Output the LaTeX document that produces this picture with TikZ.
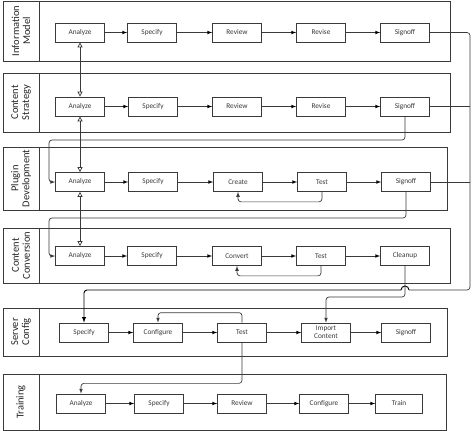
\documentclass[tikz,border=0pt]{standalone}
\usepackage{fontspec}
\setmainfont{Carlito}
\usetikzlibrary{arrows.meta}
\definecolor{crta}{HTML}{3A3A3A}

\begin{document}
\begin{tikzpicture}[x=1pt, y=-1pt, line width=0.7pt,
    korak/.style={draw=crta, fill=white, minimum width=49pt, minimum height=19pt,
      inner sep=1pt, align=center, text=crta, font=\fontsize{7.3}{7.8}\selectfont},
    steza/.style={draw=crta, line width=0.9pt},
    naslov/.style={rotate=90, align=center, text=black!85, font=\fontsize{10.5}{11}\selectfont},
    tok/.style={-latex, draw=crta},
    vez/.style={{Triangle[open,length=5pt,width=5pt]}-{Triangle[open,length=5pt,width=5pt]}, draw=crta}]
  \useasboundingbox (0,0) rectangle (474,431);
  % steze
  \draw [steza] (3,1) rectangle (450,61) (39,1) -- (39,61);
  \draw [steza] (3,73) rectangle (450,132) (39,73) -- (39,132);
  \draw [steza, line width=1pt] (3,147) rectangle (447,210) (39,147) -- (39,210);
  \draw [steza] (3,228) rectangle (450,283) (39,228) -- (39,283);
  \draw [steza] (3,308) rectangle (447,356) (39,308) -- (39,356);
  \draw [steza] (3,374) rectangle (446,430) (39,374) -- (39,430);
  % naslovi
  \node [naslov] (tim) at (21,31) {Information\\Model};
  \node [naslov] (tcs) at (21,102.5) {Content\\Strategy};
  \node [naslov] (tpd) at (21,178.5) {Plugin\\Development};
  \node [naslov] (tcc) at (21,255.5) {Content\\Conversion};
  \node [naslov] (tsc) at (21,332) {Server\\Config};
  \node [naslov] (ttr) at (21,402) {Training};
  % koraki
  \node [korak] (im1) at (80,32.5) {Analyze};
  \node [korak] (im2) at (152,32.5) {Specify};
  \node [korak] (im3) at (237,32.5) {Review};
  \node [korak] (im4) at (321,32.5) {Revise};
  \node [korak] (im5) at (405,32.5) {Signoff};
  \node [korak] (cs1) at (80,106.5) {Analyze};
  \node [korak] (cs2) at (153,106.5) {Specify};
  \node [korak] (cs3) at (237,106.5) {Review};
  \node [korak] (cs4) at (321,106.5) {Revise};
  \node [korak] (cs5) at (405,106.5) {Signoff};
  \node [korak] (pd1) at (80,182) {Analyze};
  \node [korak] (pd2) at (153,182) {Specify};
  \node [korak] (pd3) at (238,182) {Create};
  \node [korak] (pd4) at (322,182) {Test};
  \node [korak] (pd5) at (406,182) {Signoff};
  \node [korak] (cc1) at (80,256) {Analyze};
  \node [korak] (cc2) at (152,256) {Specify};
  \node [korak] (cc3) at (237,256) {Convert};
  \node [korak] (cc4) at (321,256) {Test};
  \node [korak] (cc5) at (405,256) {Cleanup};
  \node [korak] (sc1) at (84,332.5) {Specify};
  \node [korak] (sc2) at (158,332.5) {Configure};
  \node [korak] (sc3) at (242,332.5) {Test};
  \node [korak] (sc4) at (326,332.5) {Import\\Content};
  \node [korak] (sc5) at (406,332.5) {Signoff};
  \node [korak] (tr1) at (81,403.5) {Analyze};
  \node [korak] (tr2) at (159,403.5) {Specify};
  \node [korak] (tr3) at (242,403.5) {Review};
  \node [korak] (tr4) at (324,403.5) {Configure};
  \node [korak, minimum width=47pt] (tr5) at (399,403.5) {Train};
  % tok v stezah
  \draw [tok] (im1) edge (im2) (im2) edge (im3) (im3) edge (im4) (im4) edge (im5);
  \draw [tok] (cs1) edge (cs2) (cs2) edge (cs3) (cs3) edge (cs4) (cs4) edge (cs5);
  \draw [tok] (pd1) edge (pd2) (pd2) edge (pd3) (pd3) edge (pd4) (pd4) edge (pd5);
  \draw [tok] (cc1) edge (cc2) (cc2) edge (cc3) (cc3) edge (cc4) (cc4) edge (cc5);
  \draw [tok] (sc1) edge (sc2) (sc2) edge (sc3) (sc3) edge (sc4) (sc4) edge (sc5);
  \draw [tok] (tr1) edge (tr2) (tr2) edge (tr3) (tr3) edge (tr4) (tr4) edge (tr5);
  % vezi med analizami
  \draw [vez] (im1) -- (cs1);
  \draw [vez] (cs1) -- (pd1);
  \draw [vez] (pd1) -- (cc1);
  % zanke
  \coordinate (k1) at (49,140);
  \coordinate (k2) at (49,218);
  \draw [tok, rounded corners=3pt] (cs5) |- (k1) |- (pd1);
  \draw [tok, rounded corners=3pt] (pd5) |- (k2) |- (cc1);
  \draw [tok, rounded corners=3pt] (pd4.south) -- ++(0,10) -| (pd3.south);
  \draw [tok, rounded corners=3pt] (cc4.south) -- ++(0,10) -| (cc3.south);
  % zbiralka desno
  \coordinate (b1) at (470,290);
  \coordinate (h1) at (409,290);
  \coordinate (h2) at (401,290);
  \draw [crta, rounded corners=3pt] (im5) -| (b1) -- (h1);
  \draw [crta] (cs5) -- (cs5 -| b1) (pd5) -- (pd5 -| b1);
  \draw [black, line width=0.9pt] (h1) arc [start angle=0, end angle=180, radius=4pt];
  \draw [tok, black, line width=0.9pt, rounded corners=3pt] (h2) -| (sc1);
  % cleanup na import
  \coordinate (k4) at (326,297);
  \draw [tok, rounded corners=3pt] (cc5) |- (k4) -- (sc4);
  % server config
  \draw [tok, rounded corners=3pt] (sc3.north) -- ++(0,-10) -| (sc2.north);
  \draw [tok, rounded corners=3pt] (sc3.south) -- ++(0,41) -| (tr1.north);
\end{tikzpicture}
\end{document}
